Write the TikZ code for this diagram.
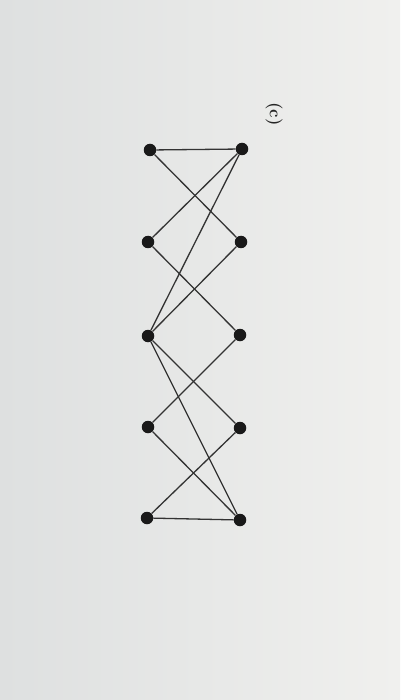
\documentclass[tikz,border=0pt]{standalone}
\begin{document}
\begin{tikzpicture}[x=1pt,y=-1pt,
  vtx/.style={circle,fill=black!90,inner sep=0pt,minimum size=12.5pt},
  edge/.style={draw=black!80,line width=1.3pt}]
\shade[left color={rgb,255:red,222;green,224;blue,224},right color={rgb,255:red,240;green,240;blue,238}] (0,0) rectangle (400,700);
\useasboundingbox (0,0) rectangle (400,700);
\node[vtx] (l1) at (150,150) {};
\node[vtx] (r1) at (242,149) {};
\node[vtx] (l2) at (148,242) {};
\node[vtx] (r2) at (241,242) {};
\node[vtx] (l3) at (148,336) {};
\node[vtx] (r3) at (240,335) {};
\node[vtx] (l4) at (148,427) {};
\node[vtx] (r4) at (240,428) {};
\node[vtx] (l5) at (147,518) {};
\node[vtx] (r5) at (240,520) {};
\draw[edge] (l1) -- (r1);
\draw[edge] (l1) -- (r2);
\draw[edge] (r1) -- (l2);
\draw[edge] (r1) -- (l3);
\draw[edge] (l2) -- (r3);
\draw[edge] (r2) -- (l3);
\draw[edge] (l3) -- (r4);
\draw[edge] (l3) -- (r5);
\draw[edge] (r3) -- (l4);
\draw[edge] (l4) -- (r5);
\draw[edge] (r4) -- (l5);
\draw[edge] (l5) -- (r5);
\node[rotate=-90,font=\fontsize{17}{20}\selectfont\bfseries,text=black!85] (lab) at (274,114) {(c)};
\end{tikzpicture}
\end{document}
